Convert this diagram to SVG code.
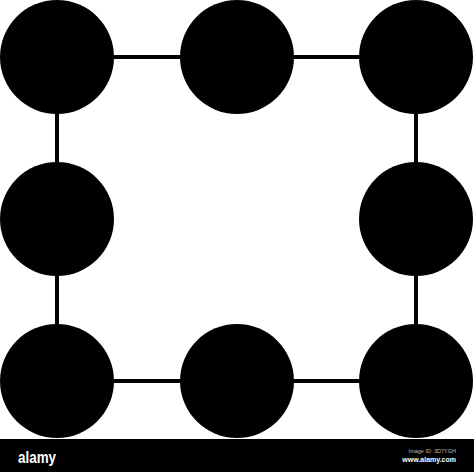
<svg xmlns="http://www.w3.org/2000/svg" width="474" height="472" viewBox="0 0 474 472">
<style>
.n{fill:#000}
.c{stroke:#000;stroke-width:4;fill:none}
.wm{font-family:"Liberation Sans",Arial,sans-serif;font-weight:bold}
</style>
<rect width="474" height="472" fill="#fff"/>
<g id="connectors">
<line class="c" x1="57" y1="57" x2="237" y2="57"/>
<line class="c" x1="237" y1="57" x2="416" y2="57"/>
<line class="c" x1="57" y1="57" x2="57" y2="219"/>
<line class="c" x1="416" y1="57" x2="416" y2="219"/>
<line class="c" x1="57" y1="219" x2="57" y2="381"/>
<line class="c" x1="416" y1="219" x2="416" y2="381"/>
<line class="c" x1="57" y1="381" x2="237" y2="381"/>
<line class="c" x1="237" y1="381" x2="416" y2="381"/>
</g>
<g id="n1"><circle class="n" cx="57" cy="57" r="57"/></g>
<g id="n2"><circle class="n" cx="237" cy="57" r="57"/></g>
<g id="n3"><circle class="n" cx="416" cy="57" r="57"/></g>
<g id="n4"><circle class="n" cx="57" cy="219" r="57"/></g>
<g id="n5"><circle class="n" cx="416" cy="219" r="57"/></g>
<g id="n6"><circle class="n" cx="57" cy="381" r="57"/></g>
<g id="n7"><circle class="n" cx="237" cy="381" r="57"/></g>
<g id="n8"><circle class="n" cx="416" cy="381" r="57"/></g>
<g id="watermark">
<rect x="0" y="439" width="474" height="33" fill="#000"/>
<text class="wm" x="18" y="463" font-size="17" fill="#fff" textLength="38" lengthAdjust="spacingAndGlyphs">alamy</text>
<text x="456" y="453" font-family="'Liberation Sans',Arial,sans-serif" font-size="5.5" fill="#bbb" text-anchor="end">Image ID: 3D7YGH</text>
<text class="wm" x="456" y="462" font-size="7" fill="#fff" text-anchor="end">www.alamy.com</text>
</g>
</svg>
